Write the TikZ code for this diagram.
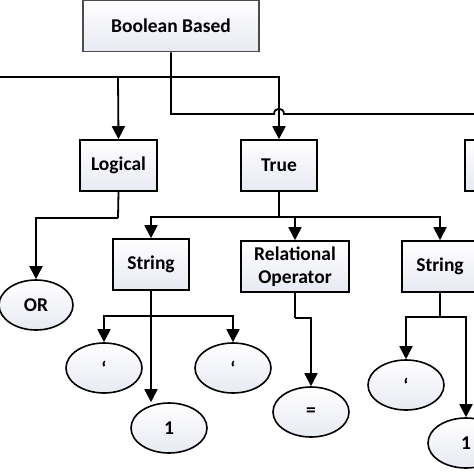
\documentclass[tikz,border=0pt]{standalone}
\usepackage{fontspec}
\setmainfont{Carlito}
\usetikzlibrary{arrows.meta,shapes.geometric}
\definecolor{boxbot}{RGB}{232,234,242}
\tikzset{
  box/.style={draw=black, line width=1.6pt, top color=white, bottom color=boxbot, minimum height=51pt, inner sep=0pt, font=\fontsize{19.5}{23}\selectfont\bfseries, align=center},
  oval/.style={draw=black, line width=1.6pt, ellipse, top color=white, bottom color=boxbot, minimum width=76pt, minimum height=50pt, inner sep=0pt, font=\fontsize{19.5}{23}\selectfont\bfseries},
  conn/.style={line width=1.8pt},
  arr/.style={line width=1.8pt, -{Triangle[length=13pt,width=13pt]}}
}
\begin{document}
\begin{tikzpicture}[x=1pt,y=-1pt]
\useasboundingbox (0,0) rectangle (474,474);
\clip (0,0) rectangle (474,474);
% boxes
\node[box, minimum width=176pt, draw=black!70] (boolean) at (171,26) {Boolean Based};
\node[box, minimum width=77pt] (logical) at (118.5,165.5) {Logical};
\node[box, minimum width=76pt] (true) at (279,165.5) {True};
\node[box, minimum width=76pt] (rbox) at (503,165.5) {};
\node[box, minimum width=76pt] (string1) at (151,264.5) {String};
\node[box, minimum width=108pt] (relop) at (295,266.5) {Relational\\Operator};
\node[box, minimum width=76pt] (string2) at (440,266.5) {String};
% ellipses
\node[oval, minimum width=74pt] (or) at (36,305) {OR};
\node[oval] (q1) at (104,368) {‘};
\node[oval] (q2) at (233,368) {‘};
\node[oval] (one1) at (169,428) {1};
\node[oval] (eq) at (311,412) {=};
\node[oval] (q3) at (406,385) {‘};
\node[oval] (one2) at (466,443) {1};
% junction coordinates
\coordinate (lin) at (-10,77);
\coordinate (lb) at (118,77);
\coordinate (bj) at (171,114);
\coordinate (jl) at (274,114);
\coordinate (jr) at (284,114);
\coordinate (rout) at (490,114);
\coordinate (lj) at (118,218);
\coordinate (tj) at (279,217);
\coordinate (sj) at (151,316);
\coordinate (rj) at (295,318);
\coordinate (s2j) at (440,317);
% connectors
\draw[arr] (lin) -| (true.north);
\draw[arr] (lb) -- (logical.north);
\draw[conn] (boolean.south) -- (bj) -- (jl) .. controls (274,107) and (284,107) .. (jr) -- (rout);
\draw[conn] (logical.south) -- (lj);
\draw[arr] (lj) -| (or.north);
\draw[conn] (true.south) -- (tj);
\draw[arr] (tj) -| (string1.north);
\draw[arr] (tj) -| (relop.north);
\draw[arr] (tj) -| (string2.north);
\draw[conn] (string1.south) -- (sj);
\draw[arr] (sj) -| (q1.north);
\draw[arr] (sj) -| (q2.north);
\draw[arr] (sj) -- (one1.north -| sj);
\draw[conn] (relop.south) -- (rj);
\draw[arr] (rj) -| (eq.north);
\draw[conn] (string2.south) -- (s2j);
\draw[arr] (s2j) -| (q3.north);
\draw[arr] (s2j) -| (one2.north);
\end{tikzpicture}
\end{document}
